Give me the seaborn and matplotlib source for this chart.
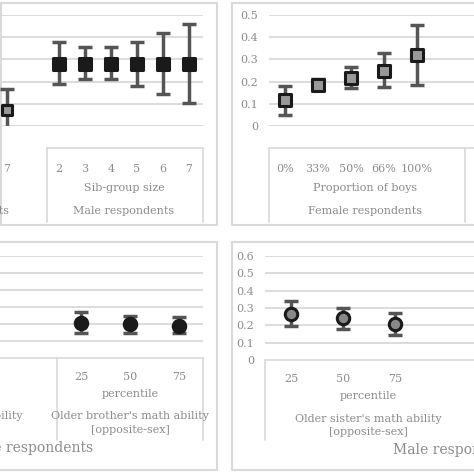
import matplotlib
matplotlib.use("Agg")
import matplotlib.pyplot as plt
import seaborn as sns
import numpy as np
import pandas as pd

# ---- data (visible part of the figure) ----
tl_fem_labels = ["7"]
tl_fem_val = [0.073]; tl_fem_lo = [-0.02]; tl_fem_hi = [0.165]
tl_male_labels = ["2", "3", "4", "5", "6", "7"]
tl_male_val = [0.28, 0.28, 0.28, 0.28, 0.28, 0.28]
tl_male_lo = [0.19, 0.21, 0.21, 0.18, 0.145, 0.105]
tl_male_hi = [0.38, 0.355, 0.355, 0.38, 0.42, 0.46]

tr_labels = ["0%", "33%", "50%", "66%", "100%"]
tr_val = [0.115, 0.185, 0.215, 0.25, 0.32]
tr_lo = [0.05, 0.16, 0.17, 0.175, 0.185]
tr_hi = [0.18, 0.21, 0.265, 0.33, 0.455]

bl_labels = ["25", "50", "75"]
bl_val = [0.205, 0.20, 0.19]
bl_lo = [0.15, 0.15, 0.145]
bl_hi = [0.27, 0.25, 0.24]

br_labels = ["25", "50", "75"]
br_val = [0.265, 0.24, 0.205]
br_lo = [0.195, 0.18, 0.145]
br_hi = [0.34, 0.30, 0.27]

sns.set_theme(style="white")
plt.rcParams['font.family'] = ['DejaVu Serif']
GREY = "#8c8c8c"; GRID = "#d9d9d9"

W = 474
fig = plt.figure(figsize=(4.74, 4.74), dpi=100)

def rect(l, t, r, b):
    return [l / W, 1 - b / W, (r - l) / W, (b - t) / W]

ov = fig.add_axes([0, 0, 1, 1], zorder=0)
ov.set_xlim(0, W); ov.set_ylim(W, 0); ov.axis("off")

def box(l, t, r, b):
    ov.plot([l, r, r, l, l], [t, t, b, b, t], color=GRID, lw=1.5)
def line(xs, ys):
    ov.plot(xs, ys, color=GRID, lw=1.2)
def txt(x, y, s, ha="center", size=8):
    ov.text(x, y, s, ha=ha, va="center", color=GREY, fontsize=size)

box(1, 3, 217, 225); box(232, 3, 490, 225)
box(-5, 242, 217, 470); box(232, 242, 490, 470)

def panel(r, xlim, ymax, yticks, show_ylab, pad_px):
    ax = fig.add_axes(r, zorder=2)
    ax.set_facecolor("none")
    ax.set_xlim(*xlim); ax.set_ylim(0, ymax)
    ax.set_yticks(yticks)
    ax.yaxis.grid(True, color=GRID, lw=1.3)
    for s in ax.spines.values():
        s.set_visible(False)
    ax.tick_params(axis="both", length=0, colors=GREY, labelsize=8)
    ax.tick_params(axis="x", pad=pad_px * 0.72)
    if show_ylab:
        ax.set_yticklabels([f"{v:g}" for v in yticks])
        ax.tick_params(axis="y", pad=8)
    else:
        ax.set_yticklabels([])
    return ax

def draw(ax, x, val, lo, hi, marker, face, ms):
    val = np.array(val); lo = np.array(lo); hi = np.array(hi)
    ax.errorbar(x, val, yerr=[val - lo, hi - val], fmt="none", ecolor="#555555",
                elinewidth=2.5, capsize=5, capthick=2.5, zorder=3)
    df = pd.DataFrame({"x": x, "y": val})
    sns.scatterplot(data=df, x="x", y="y", ax=ax, marker=marker, s=ms,
                    color=face, edgecolor="#1a1a1a", linewidth=2.2, zorder=4, legend=False)
    ax.set_xlabel(""); ax.set_ylabel("")

# top-left
ax1 = panel(rect(-100, 15, 203, 126), ((-100 - 7) / 26 + 5, (203 - 7) / 26 + 5), 0.5,
            np.arange(0, 0.51, 0.1), False, 38)
x_f = [5]; x_m = list(range(7, 13))
draw(ax1, x_f, tl_fem_val, tl_fem_lo, tl_fem_hi, "s", "#999999", 60)
draw(ax1, x_m, tl_male_val, tl_male_lo, tl_male_hi, "s", "#1a1a1a", 70)
ax1.set_xticks(x_f + x_m); ax1.set_xticklabels(tl_fem_labels + tl_male_labels)
line([47, 203], [148, 148]); line([47, 47], [148, 222]); line([203, 203], [148, 222])
txt(124, 188, "Sib-group size"); txt(124, 211, "Male respondents")
txt(9, 211, "Female respondents", ha="right")

# top-right
ax2 = panel(rect(269, 15, 520, 126), ((269 - 285) / 33, (520 - 285) / 33), 0.5,
            np.arange(0, 0.51, 0.1), True, 38)
x2 = list(range(len(tr_labels)))
draw(ax2, x2, tr_val, tr_lo, tr_hi, "s", "#999999", 70)
ax2.set_xticks(x2); ax2.set_xticklabels(tr_labels)
line([269, 474], [148, 148]); line([269, 269], [148, 222]); line([465, 465], [148, 222])
txt(365, 188, "Proportion of boys"); txt(365, 211, "Female respondents")

# bottom-left
ax3 = panel(rect(-50, 256, 203, 358), ((-50 - 81) / 49, (203 - 81) / 49), 0.6,
            np.arange(0.1, 0.61, 0.1), False, 14)
x3 = list(range(len(bl_labels)))
draw(ax3, x3, bl_val, bl_lo, bl_hi, "o", "#1a1a1a", 80)
ax3.set_xticks(x3); ax3.set_xticklabels(bl_labels)
line([-10, 203], [358, 358]); line([57, 57], [358, 440]); line([203, 203], [358, 440])
txt(130, 394, "percentile"); txt(130, 416, "Older brother's math ability")
txt(130, 430, "[opposite-sex]"); txt(23, 416, "Older sister's math ability", ha="right")
txt(93, 448, "Female respondents", ha="right", size=10)

# bottom-right
ax4 = panel(rect(265, 256, 520, 360), ((265 - 291) / 52, (520 - 291) / 52), 0.6,
            np.arange(0, 0.61, 0.1), True, 14)
ax4.yaxis.grid(False)
for v in np.arange(0.1, 0.61, 0.1):
    ax4.axhline(v, color=GRID, lw=1.3, zorder=1)
x4 = list(range(len(br_labels)))
draw(ax4, x4, br_val, br_lo, br_hi, "o", "#888888", 80)
ax4.set_xticks(x4); ax4.set_xticklabels(br_labels)
line([265, 474], [360, 360]); line([265, 265], [360, 440])
txt(368, 396, "percentile"); txt(368, 419, "Older sister's math ability")
txt(368, 432, "[opposite-sex]")
txt(393, 450, "Male respondents", ha="left", size=10)

fig.savefig("out.png", dpi=100)
